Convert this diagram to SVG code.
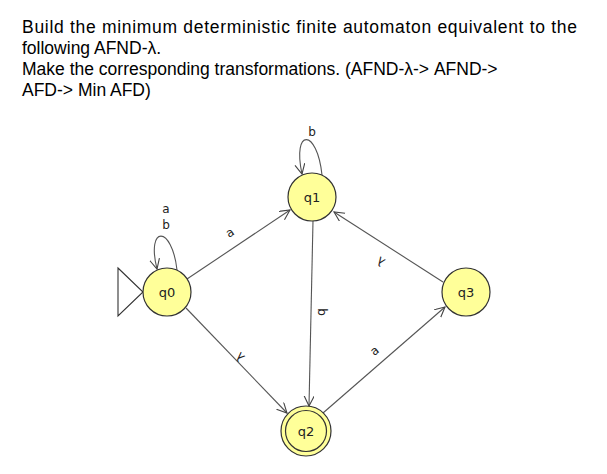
<svg xmlns="http://www.w3.org/2000/svg" width="607" height="474" viewBox="0 0 607 474">
<style>
.t{font-family:"Liberation Sans",Arial,sans-serif;font-size:17.5px;fill:#000}
.st circle{fill:#ffff99;stroke:#333;stroke-width:1.2}
.st text{font-family:"DejaVu Sans",sans-serif;font-size:13px;text-anchor:middle;fill:#222}
.e{stroke:#555;stroke-width:1.1;fill:none;marker-end:url(#ar)}
.l{font-family:"DejaVu Sans",sans-serif;font-size:12px;text-anchor:middle;fill:#222}
</style>
<defs><marker id="ar" markerWidth="12" markerHeight="12" refX="10" refY="5" orient="auto" markerUnits="userSpaceOnUse"><path d="M0,0 L10,5 L0,10" fill="none" stroke="#444" stroke-width="1.1"/></marker></defs>
<rect width="607" height="474" fill="#fff"/>
<text class="t" x="22" y="33" textLength="555" lengthAdjust="spacing">Build the minimum deterministic finite automaton equivalent to the</text>
<text class="t" x="22" y="54">following AFND-λ.</text>
<text class="t" x="22" y="75">Make the corresponding transformations. (AFND-λ-&gt; AFND-&gt;</text>
<text class="t" x="22" y="96">AFD-&gt; Min AFD)</text>
<g id="connectors">
<path class="e" d="M177,270 C172,225 146,225 157,269"/>
<text class="l" x="166" y="213">a</text><text class="l" x="166" y="229">b</text>
<path class="e" d="M322,175 C317,128 292,128 302,174"/>
<text class="l" x="312" y="136">b</text>
<line class="e" x1="187" y1="279" x2="290" y2="210"/>
<text class="l" transform="translate(232,236) rotate(-33)">a</text>
<line class="e" x1="186" y1="308" x2="287" y2="413"/>
<text class="l" transform="translate(243,354) rotate(225)">λ</text>
<line class="e" x1="313" y1="221" x2="309" y2="406"/>
<text class="l" transform="translate(318,312) rotate(90)">b</text>
<line class="e" x1="443" y1="282" x2="334" y2="212"/>
<text class="l" transform="translate(383,258) rotate(213)">λ</text>
<line class="e" x1="323" y1="413" x2="445" y2="307"/>
<text class="l" transform="translate(377,354) rotate(-40)">a</text>
</g>
<polygon points="118,268 143,292 118,316" fill="none" stroke="#333" stroke-width="1.1"/>
<g id="q0" class="st"><circle cx="167" cy="292" r="24"/><text x="167" y="297">q0</text></g>
<g id="q1" class="st"><circle cx="312" cy="197" r="24"/><text x="312" y="202">q1</text></g>
<g id="q3" class="st"><circle cx="466" cy="292" r="24"/><text x="466" y="297">q3</text></g>
<g id="q2" class="st"><circle cx="306" cy="431" r="25"/><circle cx="306" cy="431" r="20.5"/><text x="306" y="436">q2</text></g>
</svg>
